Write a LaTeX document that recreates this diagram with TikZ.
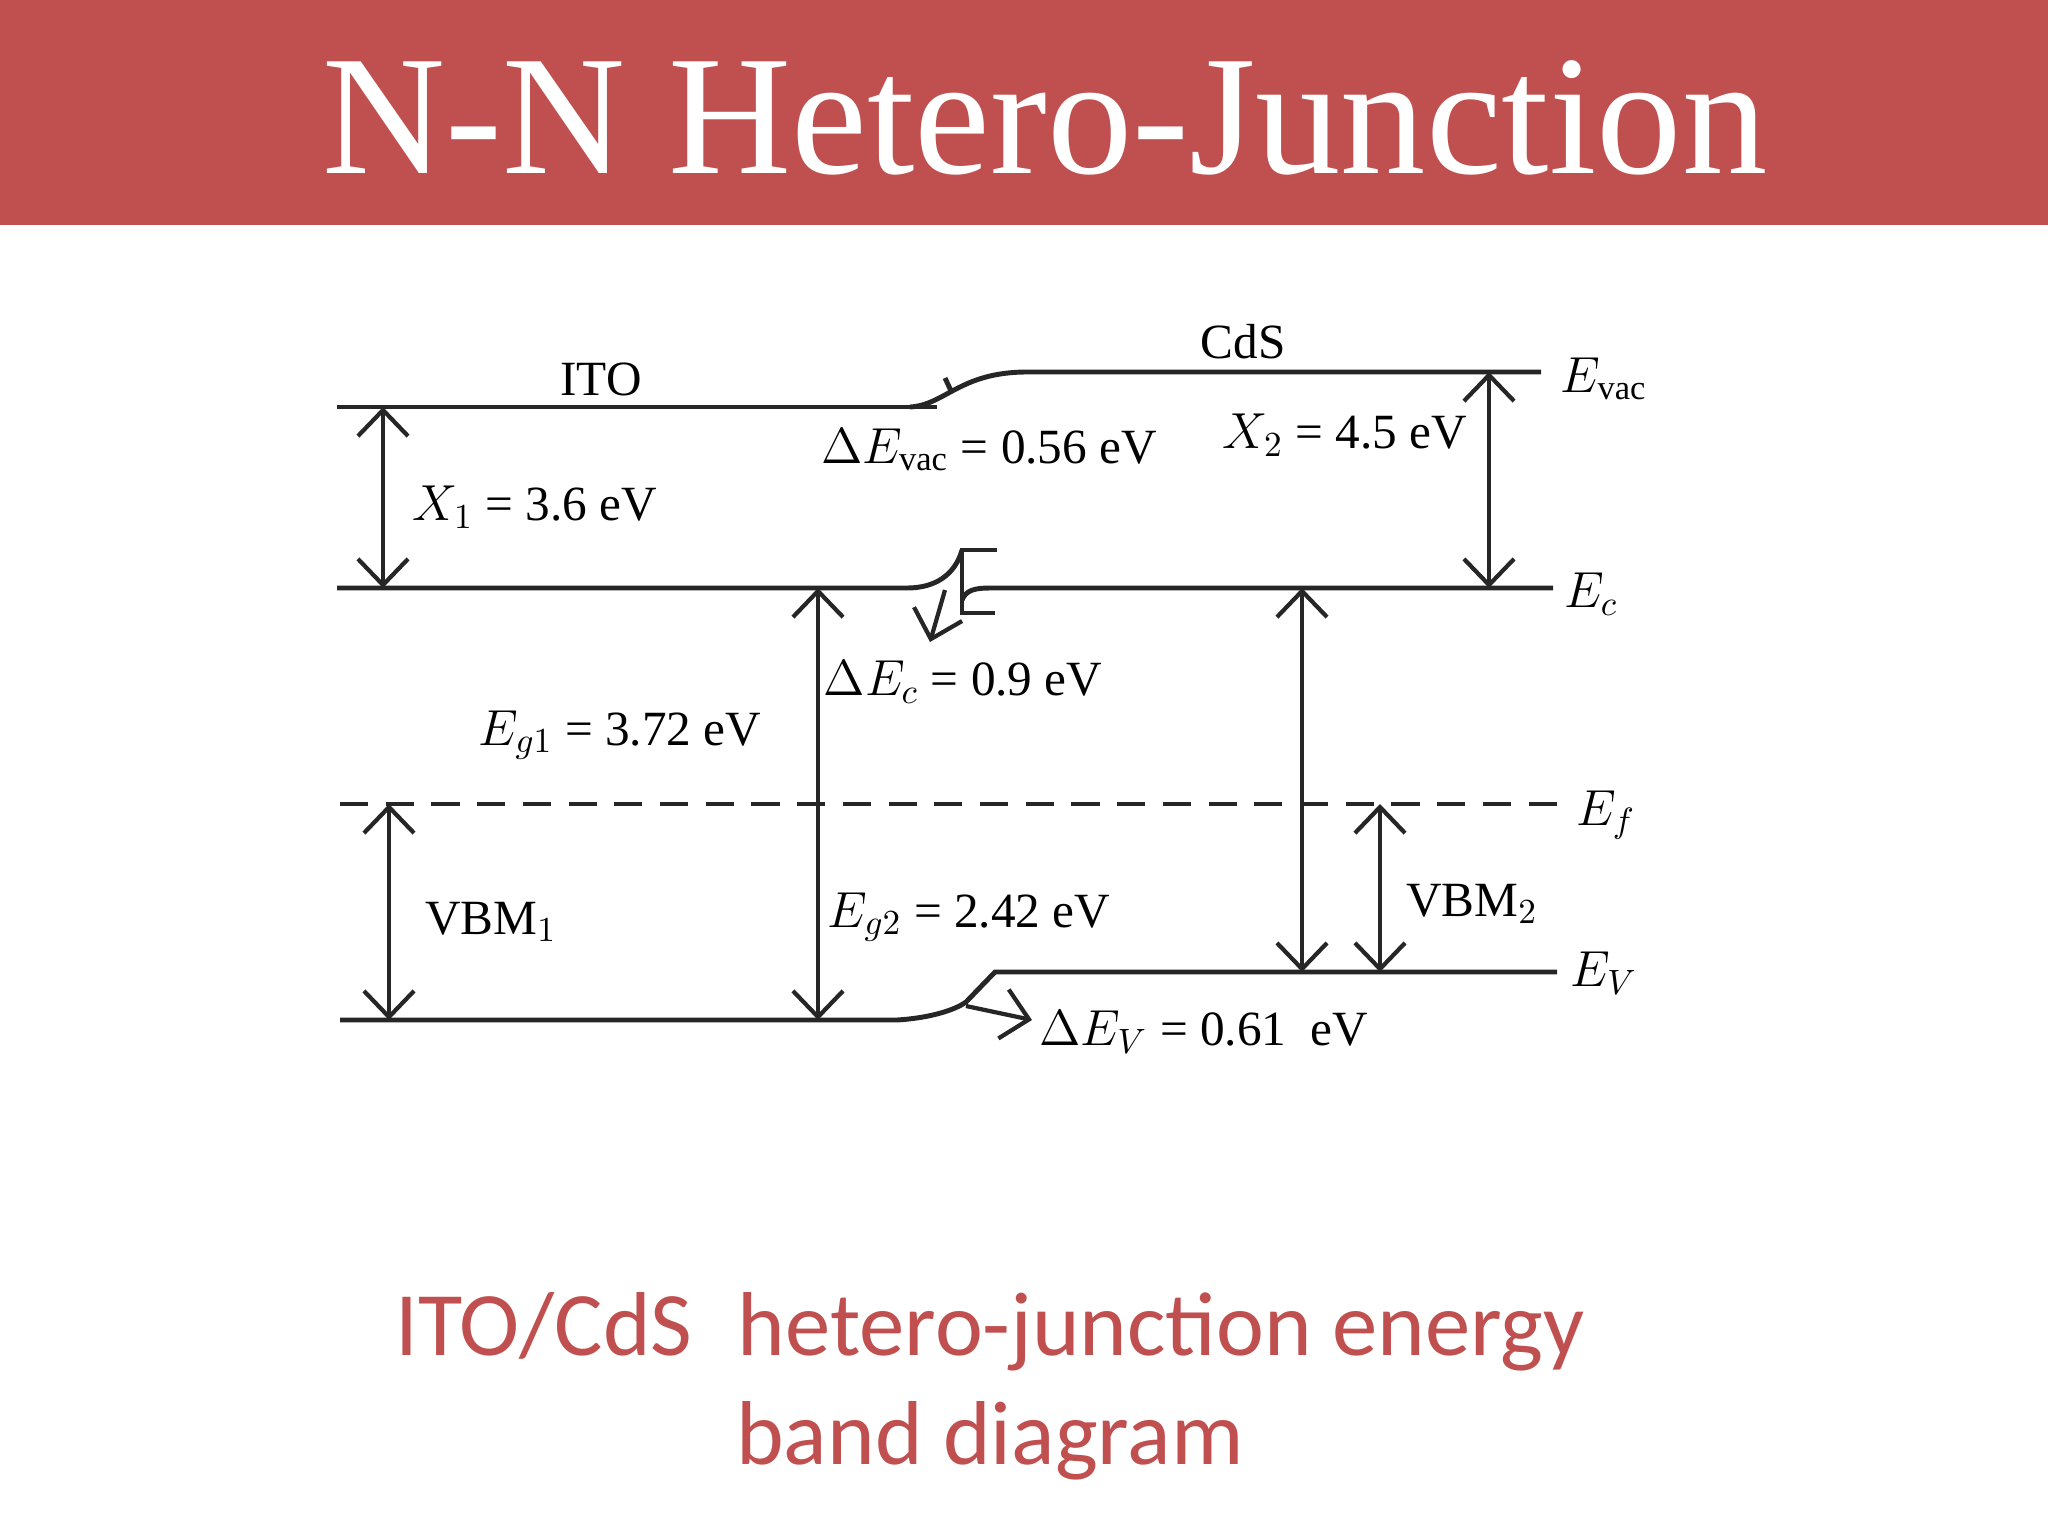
\documentclass[tikz,border=0pt]{standalone}
\usepackage{fontspec}
\setmainfont{Liberation Serif}
\newfontfamily\capfont{Carlito}
\usetikzlibrary{arrows.meta}
\definecolor{banner}{HTML}{C0504F}
\tikzset{
  band/.style={line width=1.4pt, black!85},
  dim/.style={line width=1.2pt, black!85, {Straight Barb[length=2.6mm,width=5mm]}-{Straight Barb[length=2.6mm,width=5mm]}},
  one/.style={line width=1.2pt, black!85, -{Straight Barb[length=2.6mm,width=5mm]}},
  lab/.style={font=\fontsize{14}{17}\selectfont, inner sep=0pt},
}
\begin{document}
\begin{tikzpicture}[x=0.01cm,y=-0.01cm]
\useasboundingbox (0,0) rectangle (2048,1536);
\fill[banner] (0,0) rectangle (2048,225);
\node[text=white, font=\fontsize{48.5}{56}\selectfont] (title) at (1045,118) {N-N Hetero-Junction};
% bands
\draw[band] (337,407) -- (937,407);
\draw[band] (910,407) .. controls (945,405) and (960,372) .. (1027,372) -- (1541,372);
\draw[band] (945,378) -- (952,393);
\draw[band] (337,588) -- (907,588) .. controls (935,588) and (955,575) .. (962,550);
\draw[band] (997,550) -- (962,550) -- (962,613) -- (995,613);
\draw[band] (962,600) .. controls (966,590) and (975,588) .. (990,588) -- (1553,588);
\draw[one] (945,590) -- (930,642);
\draw[band, dashed, dash pattern=on 8pt off 5pt] (340,804) -- (1561,804);
\draw[band] (340,1020) -- (897,1020) .. controls (930,1018) and (955,1010) .. (966,1002) -- (995,972) -- (1557,972);
\draw[one] (966,1006) -- (1032,1020);
% dimension arrows
\coordinate (a1) at (383,407); \coordinate (a2) at (383,588);
\draw[dim] (a1) -- (a2);
\coordinate (b1) at (1489,372); \coordinate (b2) at (1489,588);
\draw[dim] (b1) -- (b2);
\coordinate (c1) at (818,588); \coordinate (c2) at (818,1020);
\draw[dim] (c1) -- (c2);
\coordinate (d1) at (1302,588); \coordinate (d2) at (1302,972);
\draw[dim] (d1) -- (d2);
\coordinate (e1) at (389,804); \coordinate (e2) at (389,1020);
\draw[dim] (e1) -- (e2);
\coordinate (f1) at (1380,804); \coordinate (f2) at (1380,972);
\draw[dim] (f1) -- (f2);
% labels
\node[lab] (ito) at (601,379) {ITO};
\node[lab] (cds) at (1243,342) {CdS};
\node[lab] (x1) at (535,507) {$X_1$ = 3.6 eV};
\node[lab] (x2) at (1345,435) {$X_2$ = 4.5 eV};
\node[lab] (dvac) at (989,450) {$\Delta E_{\mathrm{vac}}$ = 0.56 eV};
\node[lab] (dec) at (963,682) {$\Delta E_c$ = 0.9 eV};
\node[lab] (eg1) at (620,735) {$E_{g1}$ = 3.72 eV};
\node[lab] (eg2) at (969,917) {$E_{g2}$ = 2.42 eV};
\node[lab] (vbm1) at (491,922) {VBM$_1$};
\node[lab] (vbm2) at (1472,904) {VBM$_2$};
\node[lab] (dev) at (1204,1032) {$\Delta E_V$ = 0.61\enspace eV};
\node[lab] (evac) at (1604,379) {$E_{\mathrm{vac}}$};
\node[lab] (ec) at (1591,594) {$E_c$};
\node[lab] (ef) at (1606,815) {$E_f$};
\node[lab] (ev) at (1604,973) {$E_V$};
% caption
\node[text=banner, font=\capfont\fontsize{25.8}{31}\selectfont, align=center] (cap) at (990,1386) {ITO/CdS\enspace hetero-junction energy\\band diagram};
\end{tikzpicture}
\end{document}
